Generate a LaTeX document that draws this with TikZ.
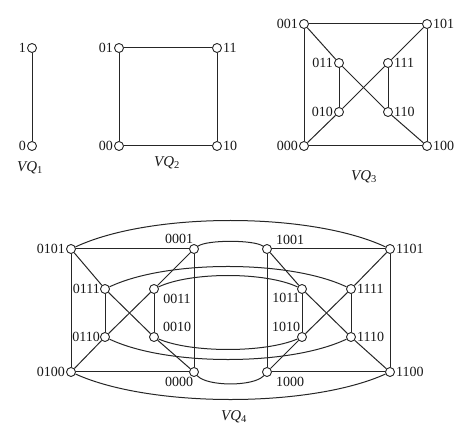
\documentclass[tikz,border=0pt]{standalone}
\usepackage{fontspec}
\setmainfont{Liberation Serif}
\begin{document}
\begin{tikzpicture}[x=1pt,y=-1pt,
 v/.style={circle,draw=black!85,fill=white,minimum size=9pt,inner sep=0pt,line width=0.9pt},
 e/.style={line width=1pt,draw=black!85},
 lab/.style={font=\fontsize{14}{14}\selectfont,inner sep=1pt,text=black!90},
 every label/.style={lab},
 label distance=0pt]
\useasboundingbox (0,0) rectangle (474,443);
% ---------- VQ1
\node[v,label=left:1] (a1) at (32,48) {};
\node[v,label=left:0] (a0) at (32,146) {};
\draw[e] (a1) -- (a0);
\node[lab,font=\fontsize{15}{15}\selectfont] (vq1) at (30,168) {\textit{VQ}\textsubscript{1}};
% ---------- VQ2
\node[v,label=left:01] (b01) at (119,48) {};
\node[v,label=right:11] (b11) at (217,48) {};
\node[v,label=left:00] (b00) at (119,146) {};
\node[v,label=right:10] (b10) at (217,146) {};
\draw[e] (b01) -- (b11) -- (b10) -- (b00) -- (b01);
\node[lab,font=\fontsize{15}{15}\selectfont] (vq2) at (167,163) {\textit{VQ}\textsubscript{2}};
% ---------- VQ3
\node[v,label=left:001] (c001) at (304,24) {};
\node[v,label=right:101] (c101) at (427,24) {};
\node[v,label=left:000] (c000) at (304,146) {};
\node[v,label=right:100] (c100) at (427,146) {};
\node[v,label=left:011] (c011) at (339,63) {};
\node[v,label=right:111] (c111) at (388,63) {};
\node[v,label=left:010] (c010) at (339,112) {};
\node[v,label=right:110] (c110) at (388,112) {};
\draw[e] (c001) -- (c101) -- (c100) -- (c000) -- (c001);
\draw[e] (c001) -- (c011) -- (c110) -- (c100);
\draw[e] (c000) -- (c010) -- (c111) -- (c101);
\draw[e] (c011) -- (c010);
\draw[e] (c111) -- (c110);
\node[lab,font=\fontsize{15}{15}\selectfont] (vq3) at (364,177) {\textit{VQ}\textsubscript{3}};
% ---------- VQ4 left
\node[v,label=left:0101] (d0101) at (71,249) {};
\node[v] (d0001) at (194,249) {};
\node[v,label={[inner sep=0pt]left:0111}] (d0111) at (105,289) {};
\node[v] (d0011) at (154,289) {};
\node[v,label={[inner sep=0pt]left:0110}] (d0110) at (105,337) {};
\node[v] (d0010) at (154,337) {};
\node[v,label=left:0100] (d0100) at (71,372) {};
\node[v] (d0000) at (194,372) {};
\node[lab] (t0001) at (179,239) {0001};
\node[lab] (t0011) at (177,299) {0011};
\node[lab] (t0010) at (177,327) {0010};
\node[lab] (t0000) at (179,382) {0000};
\draw[e] (d0101) -- (d0001) -- (d0000) -- (d0100) -- (d0101);
\draw[e] (d0101) -- (d0111) -- (d0010) -- (d0000);
\draw[e] (d0100) -- (d0110) -- (d0011) -- (d0001);
\draw[e] (d0111) -- (d0110);
\draw[e] (d0011) -- (d0010);
% ---------- VQ4 right
\node[v] (d1001) at (267,249) {};
\node[v,label=right:1101] (d1101) at (390,249) {};
\node[v] (d1011) at (302,289) {};
\node[v,label=right:1111] (d1111) at (351,289) {};
\node[v] (d1010) at (302,337) {};
\node[v,label=right:1110] (d1110) at (351,337) {};
\node[v] (d1000) at (267,372) {};
\node[v,label=right:1100] (d1100) at (390,372) {};
\node[lab] (t1001) at (290,240) {1001};
\node[lab] (t1011) at (286,298) {1011};
\node[lab] (t1010) at (286,327) {1010};
\node[lab] (t1000) at (290,382) {1000};
\draw[e] (d1001) -- (d1101) -- (d1100) -- (d1000) -- (d1001);
\draw[e] (d1001) -- (d1011) -- (d1110) -- (d1100);
\draw[e] (d1000) -- (d1010) -- (d1111) -- (d1101);
\draw[e] (d1011) -- (d1010);
\draw[e] (d1111) -- (d1110);
% ---------- VQ4 cross arcs
\draw[e] (d0101) .. controls (150.75,211.7) and (310.25,211.7) .. (d1101);
\draw[e] (d0001) .. controls (207,239.7) and (254,239.7) .. (d1001);
\draw[e] (d0111) .. controls (166.5,259.7) and (289.5,259.7) .. (d1111);
\draw[e] (d0011) .. controls (191,271.7) and (265,271.7) .. (d1011);
\draw[e] (d0010) .. controls (191,353) and (265,353) .. (d1010);
\draw[e] (d0110) .. controls (166.5,366.3) and (289.5,366.3) .. (d1110);
\draw[e] (d0000) .. controls (207,386.7) and (254,386.7) .. (d1000);
\draw[e] (d0100) .. controls (150.75,408) and (310.25,408) .. (d1100);
\node[lab,font=\fontsize{15}{15}\selectfont] (vq4) at (234,417) {\textit{VQ}\textsubscript{4}};
\end{tikzpicture}
\end{document}
